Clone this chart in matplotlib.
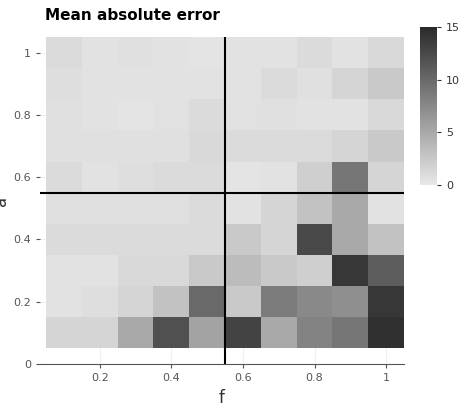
import numpy as np
import matplotlib
matplotlib.use("Agg")
import matplotlib.pyplot as plt
from matplotlib.colors import LinearSegmentedColormap

f_vals = [0.1, 0.2, 0.3, 0.4, 0.5, 0.6, 0.7, 0.8, 0.9, 1.0]
a_vals = [0.1, 0.2, 0.3, 0.4, 0.5, 0.6, 0.7, 0.8, 0.9, 1.0]
# rows bottom (a=0.1) to top (a=1.0)
mae = [
    [1.5, 1.5, 5, 12, 5.5, 13, 5, 8, 9, 14.5],
    [0.5, 0.8, 1.5, 3, 10, 2.5, 8.5, 7.5, 7, 14],
    [0.5, 0.5, 1.2, 1.2, 2.5, 3.5, 2.5, 2, 14, 11],
    [1, 1, 1, 1, 1, 2.5, 1.5, 12.5, 5, 3],
    [0.7, 0.7, 0.7, 0.7, 1, 0.5, 1.5, 3, 5, 0.5],
    [1, 0.5, 0.8, 1, 1, 0.3, 0.5, 2, 9, 1.5],
    [0.7, 0.7, 0.7, 0.7, 1.2, 1, 1, 1, 1.5, 2.5],
    [0.7, 0.5, 0.3, 0.6, 1, 0.6, 0.7, 0.5, 0.5, 1.2],
    [0.8, 0.5, 0.5, 0.5, 0.5, 0.5, 1, 0.7, 1.5, 2.5],
    [1, 0.5, 0.7, 0.5, 0.3, 0.5, 0.5, 1, 0.5, 1.2],
]
f_cut = 0.55
a_cut = 0.55

cmap = LinearSegmentedColormap.from_list("g", ["#e8e8e8", "#2a2a2a"])

fig = plt.figure(figsize=(4.74, 4.08), dpi=100)
ax = fig.add_axes([40/474, 1-364/408, 364/474, 327/408])
fe = np.append(np.array(f_vals) - 0.05, f_vals[-1] + 0.05)
ae = np.append(np.array(a_vals) - 0.05, a_vals[-1] + 0.05)
mesh = ax.pcolormesh(fe, ae, np.array(mae), cmap=cmap, vmin=0, vmax=15)
ax.axvline(f_cut, color="black", lw=1.5)
ax.axhline(a_cut, color="black", lw=1.5)
ax.set_xlim(0.033, 1.05)
ax.set_ylim(0, 1.05)
ax.set_xticks([0.2, 0.4, 0.6, 0.8, 1.0])
ax.set_xticklabels(["0.2", "0.4", "0.6", "0.8", "1"])
ax.set_yticks([0, 0.2, 0.4, 0.6, 0.8, 1.0])
ax.set_yticklabels(["0", "0.2", "0.4", "0.6", "0.8", "1"])
ax.grid(color="#f0f0f0", lw=0.8)
ax.set_axisbelow(True)
for s in ["top", "right", "left"]:
    ax.spines[s].set_visible(False)
ax.spines["bottom"].set_color("#555555")
ax.tick_params(colors="#555555", labelsize=8, length=3)
ax.set_xlabel("f", fontsize=12, color="#333333", labelpad=4)
ax.set_ylabel("a", fontsize=12, color="#333333", labelpad=2)
fig.text(45/474, 1-8/408, "Mean absolute error", fontsize=11, fontweight="bold", va="top")

cax = fig.add_axes([420/474, 1-185/408, 17/474, 158/408])
cb = fig.colorbar(mesh, cax=cax, ticks=[0, 5, 10, 15])
cb.outline.set_visible(False)
cax.tick_params(labelsize=8, colors="#333333", length=3)

fig.savefig("out.png", dpi=100)
